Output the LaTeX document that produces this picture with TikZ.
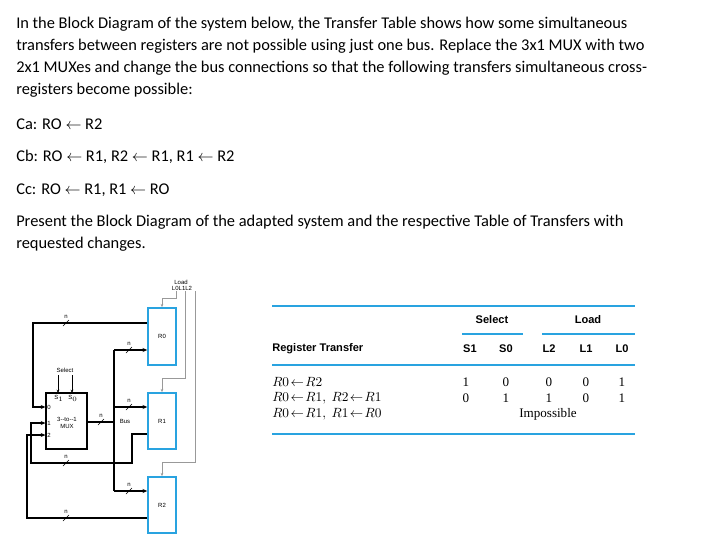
\documentclass[tikz,border=0pt]{standalone}
\usepackage{fontspec}
\setmainfont{Carlito}
\newfontfamily\hdr{Liberation Sans}
\newfontfamily\tms{Liberation Serif}
\usetikzlibrary{arrows.meta}
\definecolor{tblue}{HTML}{29A3E0}
\tikzset{
  txt/.style={anchor=west, inner sep=0pt, font=\fontsize{12.3}{14}\selectfont},
  reg/.style={draw=tblue, line width=1.2pt, fill=white},
  wire/.style={line width=0.9pt, -{Stealth[length=3.5pt,width=3pt]}},
  bus/.style={line width=0.9pt},
  ld/.style={draw=gray!80, line width=0.5pt},
  tiny/.style={inner sep=0pt, font=\hdr\fontsize{4.5}{5}\selectfont},
  rule/.style={draw=tblue, line width=1.6pt},
  th/.style={inner sep=0pt, font=\hdr\bfseries\fontsize{8.3}{9}\selectfont},
  td/.style={inner sep=0pt, font=\tms\fontsize{9.8}{11}\selectfont}
}
\newcommand{\nslash}[1]{\draw[line width=0.5pt] ($(#1)+(-3,3)$) -- ($(#1)+(3,-3)$); \node[tiny] at ($(#1)+(0,-6)$) {n};}
\usetikzlibrary{calc}
\begin{document}
\begin{tikzpicture}[x=0.75pt, y=-0.75pt]
\useasboundingbox (0,0) rectangle (705,538);
% question text
\node[txt] (q1) at (16,24) {In the Block Diagram of the system below, the Transfer Table shows how some simultaneous};
\node[txt] (q2) at (16,46) {transfers between registers are not possible using just one bus. Replace the 3x1 MUX with two};
\node[txt] (q3) at (16,68) {2x1 MUXes and change the bus connections so that the following transfers simultaneous cross-};
\node[txt] (q4) at (16,90) {registers become possible:};
\node[txt] (ca) at (16,124) {Ca: RO $\leftarrow$ R2};
\node[txt] (cb) at (16,157) {Cb: RO $\leftarrow$ R1, R2 $\leftarrow$ R1, R1 $\leftarrow$ R2};
\node[txt] (cc) at (16,190) {Cc: RO $\leftarrow$ R1, R1 $\leftarrow$ RO};
\node[txt] (q5) at (16,222) {Present the Block Diagram of the adapted system and the respective Table of Transfers with};
\node[txt] (q6) at (16,244) {requested changes.};

% registers and mux
\node[reg, minimum width=21pt, minimum height=42.75pt] (R0) at (162,336.5) {};
\node[reg, minimum width=21pt, minimum height=42pt] (R1) at (162,421) {};
\node[reg, minimum width=21pt, minimum height=42pt] (R2) at (162,505) {};
\node[tiny] at (R0) {R0};
\node[tiny] at (R1) {R1};
\node[tiny] at (R2) {R2};
\node[draw, line width=0.9pt, minimum width=30.75pt, minimum height=42pt] (mux) at (66.5,421) {};
\node[tiny, align=center] (muxl) at (67,423) {3--to--1\\MUX};
\node[tiny] (s1) at (59,398) {S$_1$};
\node[tiny] (s0) at (73,398) {S$_0$};
\node[tiny, anchor=west] (i0) at (47,407) {0};
\node[tiny, anchor=west] (i1) at (47,423) {1};
\node[tiny, anchor=west] (i2) at (47,435) {2};
\node[tiny] (sel) at (65,370) {Select};
\node[tiny] (bl) at (125,421) {Bus};
\node[tiny] (ldl) at (181,282) {Load};
\node[tiny] (ldn) at (182,288) {L0L1L2};

% bus
\coordinate (bt) at (114,350);
\coordinate (bb) at (114,491);
\draw[bus] (mux.east |- 0,422) -- (114,422); \nslash{101,422}
\draw[bus] (bt) -- (bb);
\draw[wire] (bt) -- (R0.west |- bt); \nslash{129,350}
\draw[wire] (114,407) -- (R1.west |- 0,407); \nslash{129,407}
\draw[wire] (bb) -- (R2.west |- bb); \nslash{129,491}

% feedback to mux
\draw[wire] (R0.west |- 0,323) -- (33,323) -- (33,407) -- (mux.west |- 0,407); \nslash{66,323}
\draw[wire] (R1.west |- 0,434) -- (132,434) -- (132,463) -- (31,463) -- (31,423) -- (mux.west |- 0,423); \nslash{66,463}
\draw[wire] (R2.west |- 0,518) -- (27,518) -- (27,435) -- (mux.west |- 0,435); \nslash{66,518}

% select and load
\draw[-{Stealth[length=2.5pt,width=2pt]}, line width=0.4pt] (58,375) -- (58,393);
\draw[-{Stealth[length=2.5pt,width=2pt]}, line width=0.4pt] (72,375) -- (72,393);
\draw[ld, -{Stealth[length=2.5pt,width=2pt]}] (176,291) -- (176,298) -- (162,298) -- (R0.north);
\draw[ld, -{Stealth[length=2.5pt,width=2pt]}] (185,291) -- (185,378) -- (162,378) -- (R1.north);
\draw[ld, -{Stealth[length=2.5pt,width=2pt]}] (195,291) -- (195,462) -- (162,462) -- (R2.north);

% table
\draw[rule] (272,306) -- (635,306);
\draw[rule] (462,334) -- (523,334);
\draw[rule] (542,334) -- (635,334);
\draw[rule] (272,365) -- (635,365);
\draw[rule] (272,434) -- (635,434);
\node[th] (hsel) at (492,320) {Select};
\node[th] (hld) at (588,320) {Load};
\node[th, anchor=west] (hrt) at (272,349) {Register Transfer};
\foreach \c/\x in {S1/470, S0/506, L2/549, L1/586, L0/622}
  \node[th] (h\c) at (\x,349) {\c};
\node[td, anchor=west] (r1) at (272,382) {$R0\!\leftarrow\!R2$};
\node[td, anchor=west] (r2) at (272,398) {$R0\!\leftarrow\!R1,\ R2\!\leftarrow\!R1$};
\node[td, anchor=west] (r3) at (272,414) {$R0\!\leftarrow\!R1,\ R1\!\leftarrow\!R0$};
\foreach \x/\a/\b in {466/1/0, 506/0/1, 549/0/1, 586/0/0, 622/1/1} {
  \node[td] at (\x,382) {\a};
  \node[td] at (\x,398) {\b};
}
\node[td] (imp) at (548,414) {Impossible};
\end{tikzpicture}
\end{document}
